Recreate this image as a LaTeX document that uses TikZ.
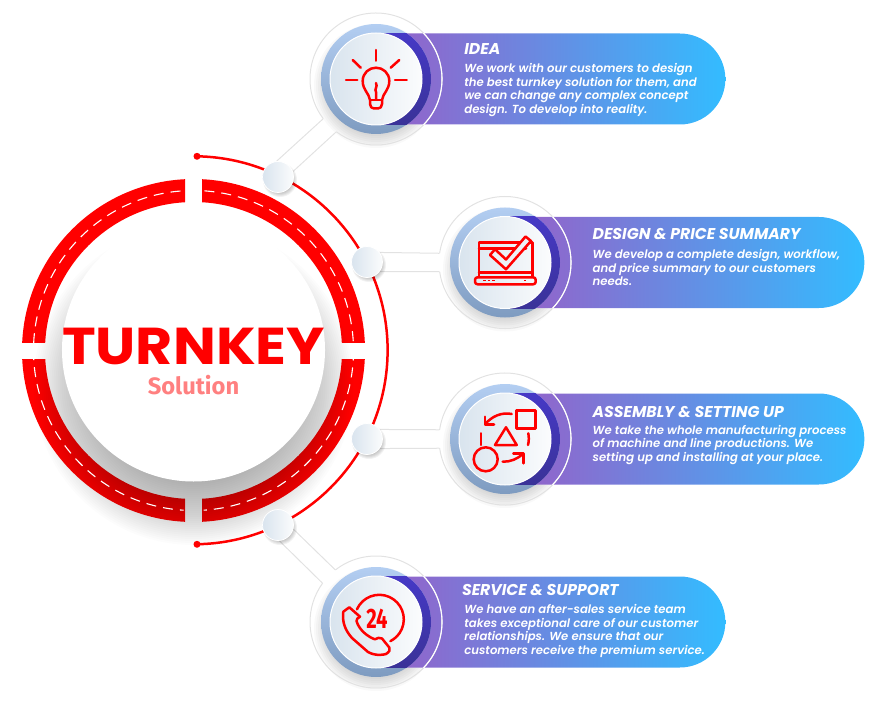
\documentclass[tikz,border=0pt]{standalone}
\usepackage{fontspec}
\usepackage{tikz}
\usetikzlibrary{calc}
\usetikzlibrary{shapes.misc}
\setmainfont{Poppins}
\newfontfamily\cardfont{Poppins}[ItalicFont={Poppins SemiBold Italic},BoldItalicFont={Poppins Bold Italic}]
\newfontfamily\subfont{Fira Sans}
\definecolor{ringred}{HTML}{FF0000}
\definecolor{linkgray}{HTML}{E2E2E2}
\definecolor{bandleft}{HTML}{985EC7}
\definecolor{bandright}{HTML}{33BCFF}
\definecolor{faceleft}{HTML}{D9E4EE}
\definecolor{faceright}{HTML}{FBFCFD}
\definecolor{solpink}{HTML}{FF8080}
\definecolor{haloup}{HTML}{B3CEF2}
\definecolor{halodown}{HTML}{7E9BC0}
\definecolor{moonup}{HTML}{4639C6}
\definecolor{moondown}{HTML}{3A3298}
\tikzset{
  px/.style={x=0.2mm,y=-0.2mm},
  linkline/.style={draw=linkgray,line width=0.2mm},
  iconline/.style={draw=ringred,line width=0.5mm,line join=round,line cap=round},
  pindot/.style={circle,fill=ringred,minimum size=1.4mm,inner sep=0pt},
  knob/.style={circle,draw=white,line width=0.15mm,left color=faceleft,right color=faceright,minimum size=6.2mm,inner sep=0pt},
  face/.style={circle,draw=white,line width=0.2mm,left color=faceleft,right color=faceright,minimum size=18.4mm,inner sep=0pt},
  anchorring/.style={circle,minimum size=26.4mm,inner sep=0pt},
  band/.style={rounded rectangle,rounded rectangle left arc=none,left color=bandleft,right color=bandright,minimum height=18.2mm,inner sep=0pt,anchor=west},
  cardhead/.style={anchor=west,inner sep=0pt,text=white,font=\cardfont\bfseries\itshape\fontsize{8.9}{9}\selectfont},
  cardbody/.style={anchor=west,inner sep=0pt,text=white,align=left,font=\cardfont\itshape\fontsize{6.65}{7.75}\selectfont},
}

\begin{document}
\begin{tikzpicture}[px]
\useasboundingbox (0,0) rectangle (883,704);

% main ring
\foreach \sx/\sy in {1/-1,-1/-1,-1/1,1/1}{
  \begin{scope}
    \clip (193.5+8.5*\sx,350.5+8.5*\sy) rectangle (193.5+210*\sx,350.5+210*\sy);
    \draw[ringred,line width=4.6mm] (193.5,350.5) circle (160);
  \end{scope}
}
\foreach \r in {98,100,...,160}
  \fill[black,opacity=0.0125] (193.5,385) circle (\r);
\foreach \sx/\sy in {1/-1,-1/-1,-1/1,1/1}{
  \begin{scope}
    \clip (193.5+10*\sx,350.5+8.5*\sy) rectangle (193.5+210*\sx,350.5+210*\sy);
    \draw[white,line width=0.22mm,dash pattern=on 2mm off 1.4mm] (193.5,350.5) circle (160);
  \end{scope}
}
\node[circle,fill=white,minimum size=52.6mm,inner sep=0pt] (hub) at (193.5,350) {};
\node[inner sep=0pt,text=ringred,xscale=1.1,font=\bfseries\fontsize{29.5}{30}\selectfont] (title) at (193.5,346.5) {TURNKEY};
\node[inner sep=0pt,text=solpink,font=\subfont\bfseries\fontsize{13.5}{15}\selectfont] (subtitle) at (193.5,385) {Solution};

% the cards
\foreach \n/\cx/\cy/\bw/\from/\to in {1/376/79/69.8/143/487,2/505/262.5/71.8/188/532,3/505/439/71.8/188/532,4/376/622/69.8/232/576}{
  \foreach \r in {50,52,...,62}
    \fill[black,opacity=0.025] (\cx,\cy+7) circle (\r);
  \node[band,minimum width=\bw mm] (band\n) at (\cx,\cy) {};
  \shade[top color=haloup,bottom color=halodown] (\cx,\cy) circle (55);
  \begin{scope}
    \clip (\cx,\cy) circle (55);
    \shade[top color=moonup,bottom color=moondown] (\cx,\cy-45.5) rectangle (\cx+60,\cy+45.5);
  \end{scope}
  \node[face] (face\n) at (\cx,\cy) {};
  \node[anchorring] (halo\n) at (\cx,\cy) {};
  \draw[linkline] ($(\cx,\cy)+(\from:66)$) arc (\from:\to:66);
  \draw[white,line width=0.22mm] ($(\cx,\cy)+(-44:66)$) arc (-44:44:66);
}

% links to the outer arc
\draw[ringred,line width=0.5mm] (197,156.3) arc (-89:89:194);
\node[pindot] (pin1) at (197,156.3) {};
\node[pindot] (pin2) at (197,544.3) {};
\foreach \n/\kx/\ky in {1/278/177,2/367/262,3/367/439,4/278/525}
  \node[knob,draw=none,left color=white,right color=white,opacity=0] (knob\n) at (\kx,\ky) {};
\draw[linkline] (halo1.217) -- (knob1.95);
\draw[linkline] (halo1.233) -- (knob1.20);
\draw[linkline] (halo2.172) -- (knob2.37);
\draw[linkline] (halo2.188) -- (knob2.-37);
\draw[linkline] (halo3.172) -- (knob3.37);
\draw[linkline] (halo3.188) -- (knob3.-37);
\draw[linkline] (halo4.144) -- (knob4.-85);
\draw[linkline] (halo4.128) -- (knob4.-15);
\foreach \n/\kx/\ky in {1/278/177,2/367/262,3/367/439,4/278/525}{
  \foreach \r in {13,14,...,17}
    \fill[black,opacity=0.05] (\kx+2,\ky+3) circle (\r);
  \node[knob] (knob\n) at (\kx,\ky) {};
}

% idea
\node[cardhead] (head1) at (464,49.3) {IDEA};
\node[cardbody] (body1) at (464,90) {We work with our customers to design\\the best turnkey solution for them, and\\we can change any complex concept\\design. To develop into reality.};
\draw[iconline] (376,50) -- (376,60.7);
\draw[iconline] (352.7,60) -- (360.7,67.7);
\draw[iconline] (399.3,60) -- (390.7,67.7);
\draw[iconline] (346,80) -- (357.3,80);
\draw[iconline] (395,80) -- (406.7,80);
\draw[iconline] (370,100) .. controls (369,93) and (362.7,90) .. (362.7,81) .. controls (362.7,73) and (369,67.7) .. (376,67.7) .. controls (383,67.7) and (389.3,73) .. (389.3,81) .. controls (389.3,90) and (383,93) .. (382,100) -- (382,104) .. controls (382,107) and (380,108.5) .. (378,108.5) -- (374,108.5) .. controls (372,108.5) and (370,107) .. (370,104) -- cycle;
\draw[iconline] (370,100) -- (382,100);
\draw[iconline] (376,99) -- (376,92) .. controls (374,89) and (378,87) .. (376,83);

% design and price
\node[cardhead] (head2) at (592.3,234.3) {DESIGN \& PRICE SUMMARY};
\node[cardbody] (body2) at (592.3,267.5) {We develop a complete design, workflow,\\and price summary to our customers\\needs.};
\draw[iconline] (479,276) -- (479,242.7) -- (532.3,242.7) -- (532.3,276);
\draw[iconline] (479,248.3) -- (526,248.3);
\draw[iconline] (479,272.7) -- (532.3,272.7);
\draw[iconline,rounded corners=0.5mm] (475,277.3) -- (535.7,277.3) -- (535.7,284.3) -- (475,284.3) -- cycle;
\draw[ringred,line width=0.3mm,dash pattern=on 0.5mm off 0.4mm] (483,280.7) -- (495,280.7);
\draw[ringred,line width=0.3mm] (524,280.7) -- (526,280.7);
\draw[iconline,fill=faceright!60!faceleft] (490,255) -- (495,249.3) -- (506,259.5) -- (525.5,236.5) -- (531,241) -- (506,269.3) -- cycle;

% assembly
\node[cardhead] (head3) at (592.3,411.7) {ASSEMBLY \& SETTING UP};
\node[cardbody] (body3) at (592.3,444.8) {We take the whole manufacturing process\\of machine and line productions. We\\setting up and installing at your place.};
\draw[iconline] (516.7,410.7) rectangle (535.3,428.3);
\draw[iconline] (506,427.3) -- (516.7,445) -- (495,445) -- cycle;
\draw[iconline] (485.7,459.3) circle (12);
\draw[iconline] (511.7,414) .. controls (502,412) and (492,416) .. (485,424.3);
\draw[iconline] (485,416.7) -- (485,424.3) -- (494,424.3);
\draw[iconline] (502.7,461.7) .. controls (510,462) and (518,459) .. (523.3,453.3);
\draw[iconline] (513.3,453.3) -- (523.3,453.3) -- (523.3,463.3);
\draw[iconline] (481,433.3) -- (481,445);
\draw[iconline] (528.3,433.3) .. controls (529,437) and (529,441) .. (528,445);

% service
\node[cardhead] (head4) at (461.7,590) {SERVICE \& SUPPORT};
\node[cardbody] (body4) at (464,631) {We have an after-sales service team\\takes exceptional care of our customer\\relationships. We ensure that our\\customers receive the premium service.};
\draw[iconline] ($(379.3,619.3)+(204:24.5)$) arc (204:423:24.5);
\draw[iconline] (349.3,607.3) -- (343.3,611.7) .. controls (342,622) and (345,630) .. (352,638) -- (368,652) .. controls (375,656) and (383,655) .. (386,654) .. controls (389,652) and (391,650) .. (389.3,647.5) -- (382,638.5) .. controls (380,637) and (377,638) .. (375,639.3) .. controls (368,637) and (359,630) .. (356.5,621) .. controls (356,619) and (358,618) .. (360,616.7) -- cycle;
\node[inner sep=0pt,text=ringred,xscale=0.72,font=\subfont\bfseries\fontsize{16}{17}\selectfont] (hours) at (377,618.3) {24};
\end{tikzpicture}
\end{document}
